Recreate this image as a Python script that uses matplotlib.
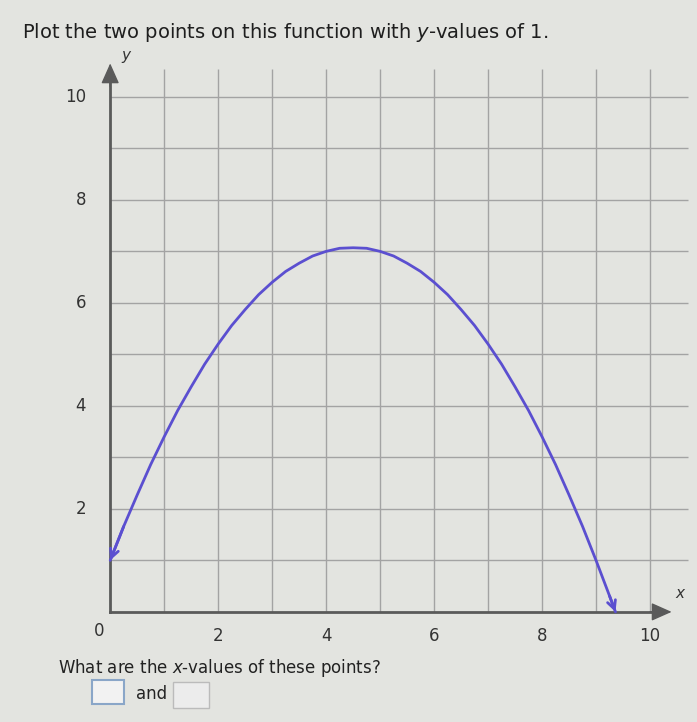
"""
Parabola on grid - plot the two points with y = 1
"""
import numpy as np
import matplotlib.pyplot as plt

# values
x_curve = [0, 0.25, 0.5, 0.75, 1, 1.25, 1.5, 1.75, 2, 2.25, 2.5, 2.75, 3, 3.25, 3.5, 3.75,
           4, 4.25, 4.5, 4.75, 5, 5.25, 5.5, 5.75, 6, 6.25, 6.5, 6.75, 7, 7.25, 7.5, 7.75,
           8, 8.25, 8.5, 8.75, 9, 9.25, 9.36]
y_curve = [1.0, 1.66, 2.27, 2.86, 3.4, 3.91, 4.37, 4.81, 5.2, 5.56, 5.87, 6.16, 6.4, 6.61,
           6.77, 6.91, 7.0, 7.06, 7.07, 7.06, 7.0, 6.91, 6.77, 6.61, 6.4, 6.16, 5.87, 5.56,
           5.2, 4.81, 4.37, 3.91, 3.4, 2.86, 2.27, 1.66, 1.0, 0.31, 0.0]

x_ticks = [2, 4, 6, 8, 10]
y_ticks = [2, 4, 6, 8, 10]
grid_x = np.arange(1, 11)
grid_y = np.arange(1, 11)

bg = '#e3e4e0'
purple = '#5b4fd0'
axis_col = '#5a5a5a'
grid_col = '#a3a3a3'

fig = plt.figure(figsize=(6.97, 7.22), dpi=100)
fig.patch.set_facecolor(bg)

# axes placed so that x=0 -> px 110, x=10 -> px 650, y=0 -> px 612, y=10 -> px 97
W, H = 697, 722
ax = fig.add_axes([67 / W, (H - 650) / H, 630 / W, 600 / H])
ax.set_xlim(-0.8, 10.87)
ax.set_ylim(-0.74, 10.91)
ax.set_facecolor(bg)
ax.axis('off')

# grid
ax.vlines(grid_x, 0, 10.55, color=grid_col, lw=1)
ax.hlines(grid_y, 0, 10.7, color=grid_col, lw=1)

# axes with arrows
ax.plot([0, 0], [0, 10.3], color=axis_col, lw=2)
ax.plot([0, 10.1], [0, 0], color=axis_col, lw=2)
arrow_kw = dict(arrowstyle='-|>,head_width=0.4,head_length=0.9', color=axis_col,
                lw=1, mutation_scale=14, shrinkA=0, shrinkB=0)
ax.annotate('', xy=(0, 10.65), xytext=(0, 10.2), arrowprops=arrow_kw)
ax.annotate('', xy=(10.4, 0), xytext=(10.0, 0), arrowprops=arrow_kw)
ax.text(0.2, 10.8, 'y', fontsize=11, style='italic', color='#333333', ha='left', va='center')
ax.text(10.55, 0.35, 'x', fontsize=11, style='italic', color='#333333', ha='center', va='center')

# tick labels
for t in y_ticks:
    ax.text(-0.45, t, str(t), fontsize=12, color='#333333', ha='right', va='center')
for t in x_ticks:
    ax.text(t, -0.3, str(t), fontsize=12, color='#333333', ha='center', va='top')
ax.text(-0.2, -0.2, '0', fontsize=12, color='#333333', ha='center', va='top')

# the function
ax.plot(x_curve, y_curve, color=purple, lw=2, solid_capstyle='round', solid_joinstyle='round')
head_kw = dict(arrowstyle='->,head_width=0.3,head_length=0.6', color=purple, lw=2,
               shrinkA=0, shrinkB=0)
ax.annotate('', xy=(x_curve[0], y_curve[0]), xytext=(x_curve[1], y_curve[1]), arrowprops=head_kw)
ax.annotate('', xy=(x_curve[-1], y_curve[-1]), xytext=(x_curve[-2], y_curve[-2]),
            arrowprops=head_kw)

# question text
fig.text(22 / W, 1 - 32 / H, 'Plot the two points on this function with $y$-values of 1.',
         fontsize=14, color='#1e1e1e', ha='left', va='center')
fig.text(58 / W, 1 - 668 / H, 'What are the $x$-values of these points?',
         fontsize=12, color='#222222', ha='left', va='center')
fig.add_artist(plt.Rectangle((92 / W, 1 - 704 / H), 32 / W, 24 / H, transform=fig.transFigure,
                             facecolor='#f2f2f2', edgecolor='#8aa6c8', lw=1.5))
fig.text(136 / W, 1 - 694 / H, 'and', fontsize=12, color='#222222', ha='left', va='center')
fig.add_artist(plt.Rectangle((173 / W, 1 - 708 / H), 36 / W, 26 / H, transform=fig.transFigure,
                             facecolor='#ececec', edgecolor='#bbbbbb', lw=1))

plt.savefig('out.png', dpi=100, facecolor=bg)
